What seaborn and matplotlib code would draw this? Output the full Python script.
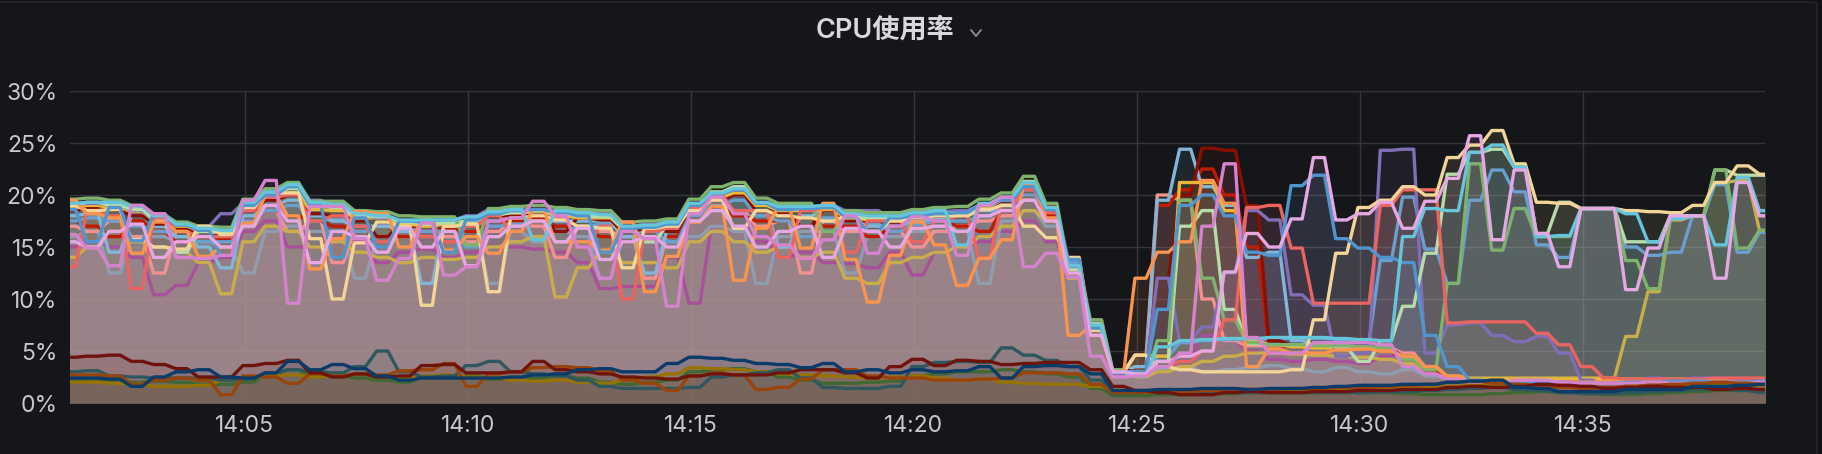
import numpy as np
import pandas as pd
import matplotlib
matplotlib.use("Agg")
import matplotlib.pyplot as plt
import matplotlib.dates as mdates
from matplotlib.lines import Line2D
from matplotlib.patches import FancyBboxPatch
import seaborn as sns

# ---------------- data (CPU usage %, one reading per 30 s from 14:01:05; each reading
# is a 15 s plateau in the source panel, which samples every 15 s) ----------------
start_time = "2024-01-01 14:01:05"
n_points = 77

cyan = [19.2,19.3,19.3,18.9,18.0,17.2,16.8,16.6,19.3,20.3,21.0,19.3,19.1,18.2,18.0,17.6,17.6,17.6,17.9,18.4,18.6,15.7,18.5,18.3,18.1,17.0,17.1,17.4,19.2,20.2,20.6,19.3,18.9,18.9,19.0,18.2,18.0,18.0,18.3,18.5,15.2,19.2,19.8,21.2,18.8,13.2,7.5,
        3.0,2.6,5.4,6.0,6.1,6.2,6.2,6.3,6.3,6.3,6.2,6.1,6.0,16.0,18.7,18.5,24.1,24.8,22.7,16.0,16.1,18.7,18.7,18.2,15.5,17.7,18.0,15.2,21.7,18.5]
blue = [18.6,15.5,18.8,15.6,18.2,17.1,16.6,14.2,19.0,20.0,20.8,19.0,14.0,17.8,15.0,17.5,17.4,14.5,17.6,18.2,18.5,18.6,18.3,18.0,14.5,16.8,16.9,17.2,19.0,20.1,20.5,19.2,18.6,18.7,18.8,17.9,16.5,17.8,18.0,18.2,18.3,19.0,19.5,20.8,18.6,13.8,7.2,
        3.0,3.0,9.0,19.0,20.0,18.0,14.5,14.2,20.9,21.9,15.8,14.9,14.0,13.5,6.5,3.5,2.2,2.0,1.9,2.0,2.0,1.9,1.9,2.0,2.0,2.1,2.1,2.0,2.0,2.1]
green = [19.6,19.7,19.5,19.0,18.1,17.4,17.0,16.9,19.6,20.6,21.2,19.4,19.4,18.5,18.4,18.0,17.9,17.9,15.2,18.7,18.9,19.0,18.8,18.6,18.5,17.4,17.5,17.7,19.6,20.8,21.2,19.7,19.2,19.2,16.5,18.5,18.3,18.3,18.6,18.8,18.9,19.6,20.2,21.8,19.2,13.2,8.0,
         3.2,2.5,6.0,19.5,12.0,8.0,5.8,5.6,5.6,5.5,5.5,5.4,5.3,4.2,3.2,11.5,23.0,14.7,18.7,16.0,16.0,18.7,18.7,13.7,11.0,17.9,18.0,22.4,14.9,16.6]
light_green = [19.0,19.3,19.0,18.6,17.6,14.5,16.5,16.4,19.0,20.2,20.6,19.0,18.8,18.0,17.9,17.4,17.2,17.3,17.5,18.1,18.3,18.5,18.2,18.0,17.9,16.8,15.5,17.1,19.0,20.3,20.8,19.2,18.7,18.6,18.8,17.9,17.8,17.7,18.0,18.2,18.3,19.0,19.6,21.3,18.8,12.8,7.6,
               3.0,2.6,4.0,17.0,18.5,9.0,5.7,5.6,5.6,5.6,5.4,4.0,6.0,9.3,14.4,22.0,24.1,24.4,22.7,16.3,19.3,18.7,18.7,15.5,15.5,18.0,18.0,22.4,21.9,21.9]
cream = [19.0,18.5,18.6,15.7,15.0,14.8,17.0,16.2,18.8,20.2,20.2,15.8,10.0,15.4,17.4,17.0,9.4,17.0,17.2,10.7,17.8,18.0,17.6,17.0,16.8,13.0,16.8,17.0,18.5,19.5,16.8,18.5,18.0,17.8,17.5,18.0,16.5,17.5,17.8,18.0,18.0,18.6,19.0,17.0,15.9,14.0,7.0,
         3.0,4.6,3.5,3.2,3.0,3.0,3.0,3.0,3.2,8.0,14.4,18.8,19.5,20.8,20.0,23.6,24.8,26.2,23.0,19.3,19.2,18.7,18.7,18.5,18.4,18.3,19.0,21.2,22.8,22.0]
pink = [16.2,14.9,13.2,19.0,18.2,14.0,13.9,14.2,19.5,21.4,9.6,18.9,18.9,15.8,11.8,13.9,17.3,12.3,13.1,17.5,17.8,19.4,18.0,15.0,12.0,16.5,15.8,9.3,18.2,19.8,18.2,16.0,15.2,13.9,15.7,18.0,14.4,17.0,17.9,17.5,14.2,19.0,19.8,13.1,14.4,12.1,4.5,
        2.5,2.6,3.5,4.8,17.0,23.0,6.3,4.8,4.8,5.8,5.8,5.8,5.6,3.5,2.8,2.3,2.0,1.8,2.2,2.2,2.0,1.9,1.9,1.9,2.0,1.9,1.9,2.0,1.9,2.0]
light_pink = [15.5,15.0,16.5,17.2,14.0,15.5,16.0,15.0,17.0,19.0,17.5,13.5,16.5,16.0,14.5,16.8,15.0,16.5,13.2,16.0,17.0,17.5,15.5,16.8,13.8,15.5,16.0,15.0,17.5,18.5,17.0,15.0,16.5,17.0,14.0,16.8,16.5,15.0,16.8,17.0,16.5,18.0,18.5,19.5,17.5,12.5,6.5,
              3.0,2.8,4.0,4.5,5.0,12.6,16.3,15.0,17.7,23.6,17.6,18.2,19.3,16.8,19.4,21.6,25.7,15.7,22.4,16.3,13.1,18.7,18.7,10.9,14.9,18.0,18.0,12.0,21.2,18.0]
orange = [19.5,18.2,17.8,14.4,17.4,16.5,14.1,15.0,17.3,20.0,18.0,12.9,15.8,18.4,18.2,15.0,17.6,14.7,16.0,14.4,16.5,18.6,15.5,15.5,14.7,17.4,10.7,14.1,17.4,18.9,11.8,16.8,18.9,14.9,19.2,13.8,9.7,14.2,17.4,15.2,11.3,13.9,15.7,21.0,17.8,6.5,7.4,
          3.0,12.0,14.5,15.5,21.4,19.2,3.5,5.2,4.8,4.8,5.1,5.2,5.0,4.5,3.5,2.6,2.2,2.1,2.1,2.1,2.0,2.0,2.1,2.0,2.0,2.0,2.1,2.1,2.0,2.0]
coral = [13.1,18.5,18.0,11.0,17.8,16.5,16.0,16.0,18.5,19.8,20.0,17.5,18.0,17.0,15.5,16.8,16.0,15.5,17.0,18.0,16.5,17.5,17.8,15.0,17.0,10.0,16.5,16.8,18.8,20.0,18.5,18.5,14.0,18.5,18.8,14.5,17.5,17.5,15.5,17.5,18.0,14.0,19.0,20.5,18.3,12.5,7.0,
         3.0,3.0,3.5,4.0,5.0,8.0,18.8,19.0,14.9,9.6,9.6,9.6,19.0,20.5,20.5,7.7,7.8,7.8,7.8,6.7,5.6,3.5,2.4,2.3,2.3,2.3,2.3,2.4,2.4,2.4]
purple = [19.0,19.2,19.0,18.5,17.5,17.2,17.0,18.2,19.2,20.3,21.0,19.5,19.0,18.0,17.8,17.5,17.5,17.6,18.0,18.6,18.6,18.5,18.5,18.5,18.4,17.0,17.2,17.5,19.2,20.2,20.5,19.2,18.8,18.8,19.0,18.5,18.5,17.8,18.2,18.4,18.5,19.0,19.6,20.5,18.5,13.0,7.5,
          2.8,3.0,12.0,6.0,7.3,12.5,18.5,17.6,10.4,9.4,4.5,4.8,24.3,24.4,4.8,7.5,7.7,6.5,5.9,6.4,4.8,2.2,1.8,1.9,2.4,2.2,2.4,2.4,2.2,2.2]
dark_red_top = [18.5,18.8,18.6,18.0,17.2,16.8,16.0,16.2,18.5,19.5,20.0,18.2,18.0,17.5,16.0,17.0,17.0,17.2,17.2,18.0,18.0,18.0,16.5,17.8,17.6,16.5,16.8,16.5,18.5,19.5,20.0,18.5,18.2,17.0,18.5,17.5,17.5,17.4,17.8,18.0,18.0,18.8,19.4,20.8,19.0,14.0,8.0,
                3.2,3.0,12.0,20.0,24.5,24.3,19.0,6.0,5.5,5.5,5.4,5.3,5.2,4.5,3.5,2.5,2.2,2.1,2.1,2.2,2.1,2.0,2.0,2.0,2.1,2.1,2.0,2.0,2.1,2.1]
red = [17.5,17.0,16.0,17.5,16.5,15.5,16.0,15.8,17.5,18.5,18.0,17.5,17.0,16.5,17.0,16.0,16.5,16.8,16.5,17.5,17.5,17.8,17.0,16.8,16.0,15.5,15.8,16.0,18.0,19.0,18.0,17.5,17.5,17.8,17.0,17.0,16.0,17.0,17.5,17.5,17.0,16.5,18.5,20.0,18.0,13.5,7.5,
       3.0,3.0,19.0,20.5,22.5,20.0,15.0,5.5,5.4,5.4,5.3,5.2,5.0,4.2,3.2,2.4,2.1,2.0,2.0,2.1,2.0,2.0,2.0,2.1,2.0,2.0,2.0,2.1,2.1,2.0]
light_blue = [18.0,18.2,14.5,18.0,17.0,16.0,15.0,13.0,18.0,19.0,19.5,18.0,17.5,17.0,17.0,16.5,11.5,17.0,17.2,17.5,18.0,17.5,17.5,17.5,17.5,16.0,12.5,16.5,18.5,19.5,20.0,18.5,15.0,18.0,18.5,17.5,17.0,17.0,17.5,17.8,18.0,18.5,19.0,20.5,18.5,13.0,7.5,
              3.0,3.5,19.5,24.4,20.8,19.0,14.0,14.5,6.0,5.6,5.5,5.4,5.2,4.5,3.4,2.5,2.2,2.2,2.2,2.2,2.2,2.1,2.1,2.1,2.1,2.1,2.1,2.2,2.2,2.2]
steel_blue = [17.5,17.8,17.5,17.0,16.5,16.0,15.5,15.5,17.5,18.5,19.0,17.5,17.8,16.5,17.0,16.8,16.5,16.5,15.0,17.0,17.2,17.5,16.5,17.0,17.2,16.5,16.5,15.5,18.0,19.0,19.5,18.0,17.5,16.0,17.8,17.5,17.2,16.5,17.2,17.5,17.5,18.0,19.0,20.0,18.5,13.5,7.8,
              3.0,2.8,4.5,5.8,6.0,6.1,6.1,6.2,6.2,6.2,6.1,6.0,13.7,19.8,14.8,11.5,19.5,22.4,20.3,15.2,14.0,18.7,18.7,15.0,14.2,14.5,18.0,21.0,14.5,16.4]
yellow = [14.0,15.0,16.5,15.5,15.0,14.5,13.5,10.5,15.5,17.0,16.5,15.0,15.5,14.5,14.0,13.5,14.0,13.8,14.0,15.0,15.5,16.0,10.2,13.0,14.5,13.5,13.5,13.0,15.5,16.5,15.5,14.5,15.0,14.0,14.5,12.0,11.5,13.5,14.0,14.5,15.0,16.0,17.0,18.5,17.5,12.0,6.5,
          2.8,2.5,3.0,3.5,4.0,4.5,4.8,4.8,4.7,4.6,4.5,4.4,4.2,3.8,3.2,2.6,2.4,2.4,2.4,2.4,2.4,2.4,2.4,6.4,10.7,17.6,18.0,21.2,21.4,16.6]
magenta = [15.0,15.5,15.0,14.0,10.4,11.3,13.5,14.0,16.5,17.5,15.0,15.0,15.5,15.5,13.5,14.5,14.8,14.0,14.5,15.0,15.0,14.8,14.5,13.5,11.0,11.2,11.2,14.0,9.6,17.0,16.5,15.5,14.0,14.5,13.5,13.4,13.0,14.5,12.3,14.5,15.0,15.5,16.5,17.5,15.5,12.0,6.5,
           2.6,2.5,3.0,4.0,6.5,6.0,5.0,4.2,4.0,4.2,4.0,3.8,4.5,4.8,3.0,2.4,2.0,1.9,1.9,1.9,1.9,1.9,1.9,2.0,2.0,2.0,2.0,2.0,2.0,2.0]
gray_blue = [16.0,16.5,12.5,16.0,16.0,15.5,15.5,15.0,12.5,16.5,17.0,16.5,16.5,12.0,16.0,16.5,16.0,16.0,16.5,11.5,16.5,15.5,16.5,16.0,12.0,15.5,15.5,15.5,16.0,17.0,16.5,11.5,16.0,16.5,16.5,12.5,16.0,16.0,16.5,16.5,16.5,11.5,17.5,18.5,17.0,12.0,7.0,
             3.0,3.0,3.2,3.5,3.0,3.2,3.4,3.6,3.3,3.0,3.4,3.0,2.8,3.2,2.6,2.3,2.2,2.1,2.1,2.1,2.1,2.1,2.2,2.2,2.2,2.2,2.2,2.2,2.2,2.2]
salmon = [17.0,16.5,17.5,16.0,12.5,16.5,16.5,16.0,17.5,18.5,16.5,17.5,13.5,16.5,17.0,16.0,16.5,16.0,15.5,16.5,17.5,17.0,14.0,17.0,16.5,16.0,12.0,16.0,17.5,19.0,18.5,17.0,17.5,12.5,17.5,16.5,16.5,16.5,15.0,16.5,17.0,17.5,18.0,19.5,18.5,13.0,7.5,
          2.8,4.6,20.0,19.5,10.0,6.0,5.5,5.5,5.6,5.5,5.4,5.3,5.3,4.8,3.5,2.4,2.1,2.0,2.0,2.0,2.0,2.0,2.0,2.0,2.0,2.0,2.0,2.0,2.0,2.0]
gold = [18.8,19.0,18.8,18.4,17.6,17.0,16.6,16.5,18.8,19.8,20.2,18.6,18.5,17.8,17.8,17.2,17.0,17.2,17.5,18.2,18.3,18.4,18.0,17.8,17.8,16.8,17.0,17.2,18.8,19.8,20.2,19.0,18.5,18.5,18.6,17.8,17.6,17.6,18.0,18.2,18.3,18.9,19.5,21.0,18.6,13.0,7.6,
        3.0,4.6,4.5,21.2,21.2,18.5,6.0,5.6,5.4,5.3,5.3,5.2,5.0,4.5,3.5,2.5,2.3,2.3,2.3,2.3,2.3,2.3,2.3,2.3,2.3,2.3,2.3,2.3,2.3,2.3]
dark_red = [4.4,4.5,4.6,4.0,3.7,3.3,2.5,2.5,3.6,3.8,4.1,2.9,2.5,2.8,2.5,2.6,3.6,3.7,2.9,2.9,3.0,4.0,3.2,3.0,2.8,2.5,2.4,2.3,2.6,2.8,2.7,2.7,2.9,3.2,3.2,2.9,2.4,3.5,4.2,3.6,4.1,4.0,3.7,3.8,3.9,3.9,3.2,
            1.6,1.2,1.0,0.8,0.8,1.0,1.1,1.0,1.0,1.1,1.1,1.2,1.2,1.3,1.3,1.5,1.6,1.5,1.6,1.8,1.7,1.6,1.4,1.5,1.6,1.5,1.5,1.3,1.4,1.3]
navy = [2.4,2.4,2.3,1.6,2.5,3.0,3.2,2.5,2.4,2.9,4.0,3.2,3.7,3.3,2.6,2.2,2.4,2.4,2.4,2.4,2.5,2.7,2.8,3.2,3.3,3.0,3.0,3.8,4.4,4.3,4.1,3.8,3.7,3.4,3.8,3.0,3.2,2.9,3.2,3.0,3.1,3.5,2.4,3.5,3.6,3.5,2.8,
        1.2,1.2,1.3,1.3,1.4,1.4,1.3,1.4,1.4,1.5,1.6,1.7,1.7,1.8,1.8,2.0,2.1,2.2,1.5,1.4,1.1,1.1,1.1,1.3,1.3,1.3,1.6,1.6,1.7,1.8]
teal = [3.0,3.1,2.6,2.5,2.4,2.4,2.4,2.2,2.3,2.9,3.2,3.0,2.9,3.5,5.0,3.0,2.5,2.6,3.6,4.0,3.0,2.8,2.6,2.2,1.6,1.4,1.4,1.4,1.5,2.5,2.7,2.9,3.2,2.4,1.5,1.4,1.4,1.6,3.5,3.9,4.0,3.9,5.3,4.6,4.1,3.5,2.2,
        0.9,1.0,1.0,1.0,1.0,1.0,1.0,1.0,1.0,1.0,1.0,1.0,1.1,1.1,1.2,1.3,1.4,1.5,1.3,1.2,1.0,0.9,0.9,1.0,1.1,1.2,1.3,1.3,1.2,1.0]
dark_orange = [2.7,2.7,2.6,1.8,2.2,2.4,2.2,0.8,2.6,2.5,1.9,2.8,2.6,2.8,2.7,3.1,3.2,3.8,1.6,2.8,3.0,3.4,3.5,3.4,3.1,2.2,1.9,1.2,2.6,2.9,2.7,1.3,1.5,2.3,3.2,3.2,2.6,2.4,2.4,2.2,2.2,2.3,2.4,2.9,2.9,2.8,1.8,
               1.0,1.0,1.1,1.1,1.2,1.2,1.3,1.3,1.4,1.4,1.5,1.5,1.6,1.7,1.8,2.0,2.1,1.9,1.8,1.6,1.5,1.4,1.5,1.6,1.7,1.8,1.9,2.0,1.9,1.8]
dark_green = [2.2,2.3,2.2,2.0,2.1,2.0,1.8,1.8,2.0,2.8,3.2,2.5,2.6,2.4,2.2,2.0,2.5,2.6,2.6,2.3,2.3,2.4,2.6,2.4,2.0,1.8,2.0,2.2,3.0,3.2,3.3,3.0,2.5,2.2,1.9,1.9,2.0,2.1,2.6,2.8,3.0,3.0,3.2,3.0,2.8,2.5,1.4,
              0.7,0.7,0.8,0.8,0.9,0.9,1.0,1.0,1.0,1.0,1.1,1.0,1.0,0.9,0.8,0.8,0.8,0.9,1.0,1.1,1.0,0.9,0.8,0.8,0.9,1.0,1.1,1.2,1.2,1.1]
dark_yellow = [2.0,2.0,1.9,1.8,1.6,1.6,1.7,2.2,2.4,2.6,2.7,2.5,2.6,2.8,2.6,2.4,2.6,2.7,2.5,2.4,2.2,2.1,2.2,2.0,1.9,2.2,2.5,2.8,3.4,3.3,3.2,3.0,2.8,2.7,2.6,2.5,2.4,2.5,2.6,2.4,2.2,2.3,2.0,1.9,1.8,1.8,1.6,
               1.2,1.1,1.1,1.2,1.2,1.3,1.3,1.2,1.2,1.3,1.3,1.4,1.4,1.5,1.5,1.6,1.7,1.8,1.7,1.6,1.5,1.5,1.5,1.6,1.7,1.7,1.8,1.8,1.7,1.7]

series_names = ["magenta", "gray_blue", "salmon", "yellow", "red", "steel_blue", "light_blue",
                "dark_red_top", "gold", "purple", "light_green", "green", "coral", "cream",
                "orange", "blue", "cyan", "light_pink", "pink",
                "dark_green", "dark_yellow", "teal", "dark_orange", "dark_red", "navy"]
series_values = [magenta, gray_blue, salmon, yellow, red, steel_blue, light_blue,
                 dark_red_top, gold, purple, light_green, green, coral, cream,
                 orange, blue, cyan, light_pink, pink,
                 dark_green, dark_yellow, teal, dark_orange, dark_red, navy]
series_colors = ["#A8509A", "#8E9DB0", "#F29191", "#C8AD4C", "#BF1B00", "#6A9FD0", "#82B5D8",
                 "#890F02", "#EAB839", "#806EB7", "#B7DBAB", "#7EB26D", "#EA6460", "#F4D598",
                 "#F9934E", "#5195CE", "#65C5DB", "#E5A8E2", "#D683CE",
                 "#3F6833", "#967302", "#2F575E", "#99440A", "#6E140C", "#0B3B68"]

y_ticks = [0, 5, 10, 15, 20, 25, 30]
y_tick_labels = ["0%", "5%", "10%", "15%", "20%", "25%", "30%"]
title_text = "CPU使用率"

# ---------------- figure ----------------
times = pd.date_range(start_time, periods=n_points, freq="30s")
half = pd.Timedelta(seconds=7.5)
# each 30 s reading is held for one 15 s sample (plateau), as in the source panel
plateau_times = pd.DatetimeIndex(np.ravel(np.column_stack([times - half, times + half])))

frames = []
for name, vals in zip(series_names, series_values):
    assert len(vals) == n_points, (name, len(vals))
    frames.append(pd.DataFrame({"time": plateau_times,
                                "value": np.repeat(vals, 2), "series": name}))
df = pd.concat(frames, ignore_index=True)
palette = dict(zip(series_names, series_colors))

BG = "#141619"
sns.set_theme(style="dark")
W, H = 1822, 454
fig = plt.figure(figsize=(W / 100, H / 100), dpi=100, facecolor="#111215")
# panel background with faint rounded border
fig.add_artist(FancyBboxPatch((-10 / W, -10 / H), (1817 + 10) / W, (452 + 10) / H,
                              boxstyle="round,pad=0,rounding_size=0.004",
                              transform=fig.transFigure, facecolor=BG,
                              edgecolor="#24262b", linewidth=1.2, zorder=0))
ax = fig.add_axes([70 / W, 1 - 403 / H, (1765 - 70) / W, (403 - 91) / H])
ax.set_facecolor(BG)

ax.set_axisbelow(True)
ax.grid(True, color="#35363b", linewidth=1.0)

for name in series_names:
    sub = df[df["series"] == name]
    ax.fill_between(sub["time"], 0, sub["value"], color=palette[name], alpha=0.1, linewidth=0)

sns.lineplot(data=df, x="time", y="value", hue="series", palette=palette,
             hue_order=series_names, estimator=None, sort=False,
             linewidth=2.4, legend=False, ax=ax)

ax.set_xlim(times[0], times[-1])
ax.set_ylim(0, 30)
ax.set_yticks(y_ticks)
ax.set_yticklabels(y_tick_labels)
ax.xaxis.set_major_locator(mdates.MinuteLocator(byminute=range(5, 60, 5)))
ax.xaxis.set_major_formatter(mdates.DateFormatter("%H:%M"))
ax.set_xlabel("")
ax.set_ylabel("")
for s in ax.spines.values():
    s.set_visible(False)
ax.tick_params(axis="both", length=0, colors="#c7c8d0", labelsize=16.5)
ax.tick_params(axis="y", pad=9)
ax.tick_params(axis="x", pad=9)
for lab in ax.get_xticklabels() + ax.get_yticklabels():
    lab.set_fontfamily(["Inter", "DejaVu Sans"])

fig.text(885 / W, 1 - 31 / H, title_text, ha="center", va="center",
         color="#d8d9da", fontsize=19.5, fontweight="semibold",
         family=["Inter", "Noto Sans CJK SC", "DejaVu Sans"])
cx, cy = 976 / W, 1 - 33 / H
fig.add_artist(Line2D([cx - 5 / W, cx, cx + 5 / W], [cy + 3 / H, cy - 3 / H, cy + 3 / H],
                      transform=fig.transFigure, color="#8e8f96", linewidth=1.3))

fig.savefig("out.png", dpi=100, facecolor=fig.get_facecolor())
